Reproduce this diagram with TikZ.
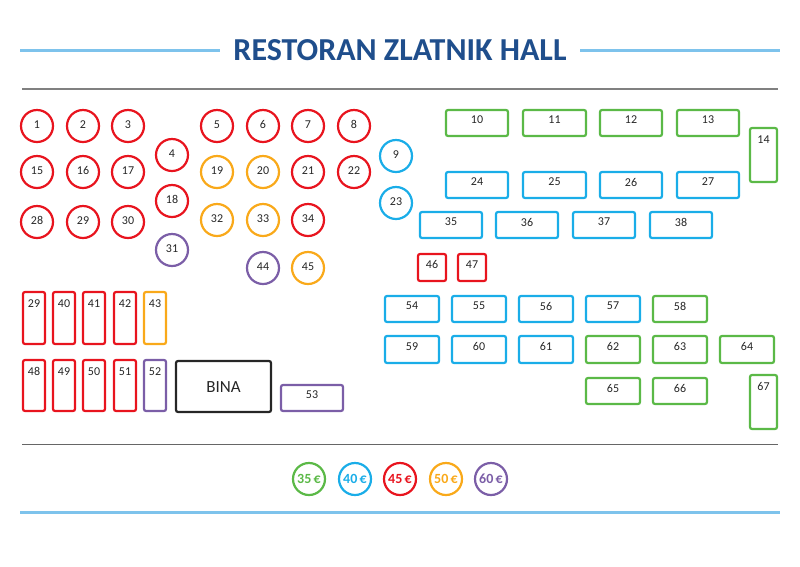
\documentclass[tikz,border=0pt]{standalone}
\usepackage{fontspec}
\setmainfont{Carlito}
\definecolor{cr}{HTML}{E8141E}
\definecolor{cg}{HTML}{5BB947}
\definecolor{cb}{HTML}{1AADE8}
\definecolor{co}{HTML}{F9A91A}
\definecolor{cp}{HTML}{7B5EA7}
\definecolor{tb}{HTML}{1F4E8C}
\definecolor{lb}{HTML}{7EC3EC}
\begin{document}
\begin{tikzpicture}[x=1pt,y=-1pt,
  tbl/.style={circle,line width=2.2pt,minimum size=32pt,inner sep=0pt,font=\fontsize{12}{12}\selectfont,text=black!85},
  rt/.style={rounded corners=2pt,line width=2.2pt}]
\useasboundingbox (0,0) rectangle (800,566);
% title
\node[font=\bfseries\fontsize{32}{32}\selectfont,text=tb] (title) at (400,50) {RESTORAN ZLATNIK HALL};
\draw[lb,line width=3pt] (20,50) -- (220,50) (580,50) -- (780,50);
\draw[gray,line width=1.4pt] (22,89) -- (778,89);
\draw[gray!80!black,line width=1pt] (22,444) -- (778,444);
\draw[lb,line width=3pt] (20,512) -- (780,512);
% circles
\foreach \n/\x/\y/\c in {1/37/126/cr,2/83/126/cr,3/128/126/cr,5/217/126/cr,6/263/126/cr,7/308/126/cr,8/354/126/cr,
 4/172/155/cr,15/37/172/cr,16/83/172/cr,17/128/172/cr,19/217/172/co,20/263/172/co,21/308/172/cr,22/354/172/cr,
 18/172/201/cr,28/37/222/cr,29/83/222/cr,30/128/222/cr,32/217/220/co,33/263/220/co,34/308/220/cr,
 31/172/250/cp,44/263/268/cp,45/308/268/co,9/396/156/cb,23/396/203/cb}
  \node[tbl,draw=\c] (c\n) at (\x,\y) {\raisebox{3pt}{\n}};
% rectangles: label, x1,y1,x2,y2,color
\foreach \n/\a/\b/\cc/\d/\c in {10/446/110/508/136/cg,11/523/110/586/136/cg,12/600/110/662/136/cg,13/677/110/739/136/cg,
 24/446/172/508/198/cb,25/523/172/586/198/cb,26/600/172/662/198/cb,27/677/172/739/198/cb,
 35/420/212/482/238/cb,36/496/212/558/238/cb,37/573/212/635/238/cb,38/650/212/712/238/cb,
 46/418/254/446/281/cr,47/458/254/486/281/cr,
 54/385/296/439/322/cb,55/452/296/506/322/cb,56/519/296/573/322/cb,57/586/296/640/322/cb,58/653/296/707/322/cg,
 59/385/336/439/363/cb,60/452/336/506/363/cb,61/519/336/573/363/cb,62/586/336/640/363/cg,63/653/336/707/363/cg,64/720/336/774/363/cg,
 65/586/378/640/404/cg,66/653/378/707/404/cg,53/281/385/343/411/cp}{
  \draw[rt,\c] (\a,\b) rectangle (\cc,\d);
  \node[font=\fontsize{12}{12}\selectfont,text=black!85] (r\n) at ({(\a+\cc)/2},{(\b+\d)/2-3}) {\n};
}
% vertical rectangles
\foreach \n/\a/\b/\cc/\d/\c in {14/750/128/777/182/cg,67/750/375/777/429/cg,
 29/23/292/45/344/cr,40/53/292/75/344/cr,41/83/292/105/344/cr,42/114/292/136/344/cr,43/144/292/166/344/co,
 48/23/360/45/411/cr,49/53/360/75/411/cr,50/83/360/105/411/cr,51/114/360/136/411/cr,52/144/360/166/411/cp}{
  \draw[rt,\c] (\a,\b) rectangle (\cc,\d);
  \node[font=\fontsize{12}{12}\selectfont,text=black!85,anchor=north] (v\n) at ({(\a+\cc)/2},\b+4) {\n};
}
\draw[rt,black!85] (176,361) rectangle (271,412);
\node[font=\fontsize{17}{17}\selectfont,text=black!85] (bina) at (223.5,387) {BINA};
% legend
\foreach \t/\x/\c in {35/309/cg,40/355/cb,45/400/cr,50/446/co,60/491/cp}
  \node[tbl,draw=\c,text=\c,font=\bfseries\fontsize{14}{14}\selectfont] (l\t) at (\x,479) {\t\,€};
\end{tikzpicture}
\end{document}
